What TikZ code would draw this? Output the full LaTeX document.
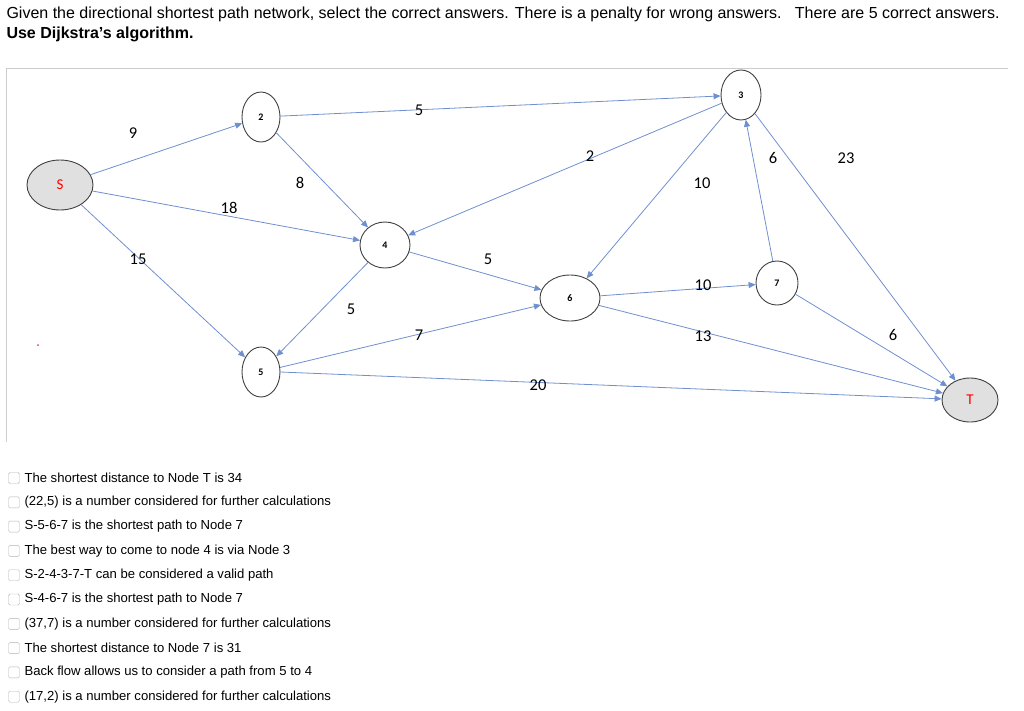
\documentclass[tikz,border=0pt]{standalone}
\usepackage{fontspec}
\setmainfont{Liberation Sans}
\newfontfamily\calfont{Carlito}
\usetikzlibrary{shapes.geometric,arrows.meta}
\definecolor{edge}{HTML}{6F8FD0}
\begin{document}
\begin{tikzpicture}[x=1pt,y=-1pt,
  nd/.style={ellipse,draw=black!75,line width=0.9pt,inner sep=0pt,font=\calfont\bfseries\fontsize{10}{10}\selectfont},
  ed/.style={draw=edge,line width=0.8pt,-{Triangle[length=7pt,width=6pt]}},
  lb/.style={font=\calfont\fontsize{16.5}{16.5}\selectfont},
  q/.style={anchor=west,font=\fontsize{13.1}{13.1}\selectfont},
  cb/.style={draw=black!30,rounded corners=1.5pt,minimum size=11pt,inner sep=0pt}]
\useasboundingbox (0,0) rectangle (1024,710);
\node[anchor=west,font=\fontsize{16}{16}\selectfont] at (3,14) {Given the directional shortest path network, select the correct answers. There is a penalty for wrong answers.\ \ \ There are 5 correct answers.};
\node[anchor=west,font=\bfseries\fontsize{16}{16}\selectfont] at (3,34) {Use Dijkstra's algorithm.};
\draw[black!20,line width=1pt] (6,442) -- (6,68) -- (1008,68);
\node[nd,fill=black!12,minimum width=66pt,minimum height=50pt,text=red,font=\calfont\fontsize{15}{15}\selectfont] (S) at (60,185) {S};
\node[nd,minimum width=38pt,minimum height=50pt] (n2) at (261,117) {2};
\node[nd,minimum width=40pt,minimum height=50pt] (n3) at (741,95) {3};
\node[nd,minimum width=50pt,minimum height=46pt] (n4) at (385,245) {4};
\node[nd,minimum width=38pt,minimum height=50pt] (n5) at (261,372) {5};
\node[nd,minimum width=60pt,minimum height=46pt] (n6) at (570,298) {6};
\node[nd,minimum width=42pt,minimum height=44pt] (n7) at (777,283) {7};
\node[nd,fill=black!12,minimum width=56pt,minimum height=44pt,text=red,font=\calfont\fontsize{15}{15}\selectfont] (T) at (970,400) {T};
\draw[ed] (S) -- (n2);
\draw[ed] (n2) -- (n3);
\draw[ed] (n2) -- (n4);
\draw[ed] (S) -- (n4);
\draw[ed] (S) -- (n5);
\draw[ed] (n3) -- (n4);
\draw[ed] (n3) -- (n6);
\draw[ed] (n7) -- (n3);
\draw[ed] (n3) -- (T);
\draw[ed] (n4) -- (n6);
\draw[ed] (n4) -- (n5);
\draw[ed] (n5) -- (n6);
\draw[ed] (n6) -- (n7);
\draw[ed] (n6) -- (T);
\draw[ed] (n5.east) -- (T);
\draw[ed] (n7) -- (T);
\node[lb] at (133,133) {9};
\node[lb] at (419,110) {5};
\node[lb] at (300,183) {8};
\node[lb] at (229,208) {18};
\node[lb] at (138,259) {15};
\node[lb] at (590,156) {2};
\node[lb] at (702,183) {10};
\node[lb] at (773,158) {6};
\node[lb] at (846,158) {23};
\node[lb] at (488,259) {5};
\node[lb] at (351,309) {5};
\node[lb] at (419,335) {7};
\node[lb] at (703,285) {10};
\node[lb] at (703,336) {13};
\node[lb] at (538,385) {20};
\node[lb] at (893,335) {6};
\fill[red!80] (38,345) circle (1pt);
\foreach \t [count=\i from 0] in {The shortest distance to Node T is 34,
  {(22,5) is a number considered for further calculations},
  S-5-6-7 is the shortest path to Node 7,
  The best way to come to node 4 is via Node 3,
  S-2-4-3-7-T can be considered a valid path,
  S-4-6-7 is the shortest path to Node 7,
  {(37,7) is a number considered for further calculations},
  The shortest distance to Node 7 is 31,
  Back flow allows us to consider a path from 5 to 4,
  {(17,2) is a number considered for further calculations}}{
  \node[cb] (c\i) at (14,{478+24.3*\i}) {};
  \node[q] at (21,{478+24.3*\i}) {\t};
}
\end{tikzpicture}
\end{document}
